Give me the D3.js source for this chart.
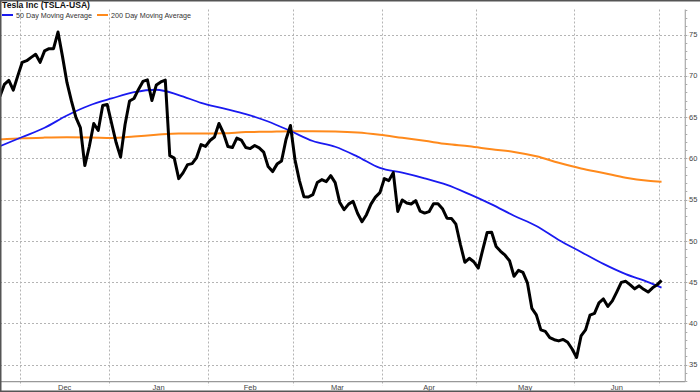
<!DOCTYPE html>
<html><head><meta charset="utf-8">
<script src="https://cdn.jsdelivr.net/npm/d3@7"></script>
<style>body{margin:0;background:#fff}svg{display:block}</style>
</head><body>
<svg id="c" width="700" height="392"></svg>
<script>
const title = "Tesla Inc (TSLA-USA)";
const seriesNames = ["50 Day Moving Average", "200 Day Moving Average"];
const months = ["Dec","Jan","Feb","Mar","Apr","May","Jun"];
const monthTradingDays = [20,22,19,20,21,22,19];
const daysBeforeFirstMonth = 4.5;
const yTicks = [35,40,45,50,55,60,65,70,75];
const price = [67.50, 68.95, 69.44, 68.26, 69.99, 71.63, 71.83, 72.23, 72.60, 71.63,
 73.02, 73.29, 73.29, 75.30, 72.35, 69.20, 66.95, 64.95, 63.73, 59.12,
 61.43, 64.22, 63.37, 66.40, 66.53, 64.22, 61.91, 60.15, 64.10, 66.95,
 67.25, 68.35, 69.32, 69.50, 67.01, 68.89, 69.26, 69.48, 60.33, 60.03,
 57.54, 58.27, 59.24, 59.36, 60.09, 61.67, 61.45, 62.16, 62.58, 64.22,
 63.07, 61.43, 61.31, 62.46, 62.22, 61.31, 61.18, 61.55, 61.27, 60.76,
 59.00, 58.39, 59.30, 59.67, 62.28, 63.98, 59.85, 57.30, 55.36, 55.32,
 55.60, 57.06, 57.42, 57.18, 57.91, 57.06, 54.69, 53.78, 54.45, 54.79,
 53.35, 52.32, 53.17, 54.45, 55.30, 55.84, 57.54, 57.30, 58.27, 53.57,
 54.96, 54.59, 54.47, 54.87, 53.60, 53.37, 53.54, 54.51, 54.51, 53.90,
 52.75, 52.72, 52.02, 49.59, 47.41, 47.89, 47.47, 46.70, 48.92, 51.02,
 51.05, 49.32, 48.74, 48.26, 47.59, 45.71, 46.43, 46.19, 44.92, 41.82,
 41.03, 39.21, 39.03, 38.28, 38.03, 37.88, 38.06, 37.72, 36.90, 35.87,
 38.48, 39.21, 41.00, 41.21, 42.49, 42.97, 42.06, 42.73, 43.82, 44.97,
 45.10, 44.67, 44.19, 44.55, 44.13, 43.80, 44.31, 44.67, 45.22];
const maDays = [0,5,10,15,20,25,30,35,40,45,50,55,60,65,70,75,80,85,90,95,100,105,110,115,120,125,130,135,140,145,148];
const ma50 = [61.46,62.58,63.70,65.19,66.40,67.25,68.01,68.31,67.67,66.73,66.05,65.36,64.46,63.31,62.10,61.40,60.21,58.84,58.26,57.58,56.78,55.66,54.42,53.05,51.80,50.11,48.66,47.21,45.97,45.00,44.33];
const ma200 = [62.28,62.44,62.51,62.54,62.53,62.47,62.64,62.85,63.01,63.01,63.03,63.18,63.22,63.28,63.28,63.25,63.13,62.85,62.48,62.12,61.73,61.45,61.09,60.78,60.25,59.47,58.78,58.23,57.65,57.28,57.15];

const svg = d3.select("#c");
const L = 0, R = 685.3, T = 9.5, B = 381.7;
const bounds = [daysBeforeFirstMonth];
monthTradingDays.forEach(d => bounds.push(bounds[bounds.length-1] + d));
const x = d3.scaleLinear().domain([bounds[0], bounds[bounds.length-1]]).range([20, 659.3]);
const y = d3.scaleLinear().domain([32.94, 78.03]).range([B, T]);

svg.append("rect").attr("width",700).attr("height",392).attr("fill","#fff");
svg.append("defs").append("clipPath").attr("id","clip").append("rect")
  .attr("x",L).attr("y",T).attr("width",R-L).attr("height",B-T);

const grid = svg.append("g").attr("stroke","#b4b4b4").attr("stroke-width",1).attr("stroke-dasharray","2,2");
grid.selectAll("line.h").data(yTicks).join("line")
  .attr("x1",L).attr("x2",R+3).attr("y1",d=>Math.round(y(d))+0.5).attr("y2",d=>Math.round(y(d))+0.5);
grid.selectAll("line.v").data(bounds).join("line")
  .attr("x1",d=>Math.round(x(d))+0.5).attr("x2",d=>Math.round(x(d))+0.5).attr("y1",T).attr("y2",B+4);

// axes
svg.append("line").attr("x1",L).attr("x2",R).attr("y1",B).attr("y2",B).attr("stroke","#999").attr("stroke-width",1.2);
svg.append("line").attr("x1",R).attr("x2",R).attr("y1",T).attr("y2",B).attr("stroke","#aaa").attr("stroke-width",1.2);
const minor = d3.range(33, 79);
svg.append("g").selectAll("line").data(minor).join("line")
  .attr("x1",R).attr("x2",R+2).attr("y1",d=>Math.round(y(d))+0.5).attr("y2",d=>Math.round(y(d))+0.5)
  .attr("stroke","#aaa").attr("stroke-width",1);

svg.append("g").selectAll("text").data(yTicks).join("text")
  .attr("x",689).attr("y",d=>y(d)).attr("dy","0.35em")
  .attr("font-family","Liberation Sans, Arial, sans-serif").attr("font-size",7.5).attr("fill","#444")
  .text(d=>d);
svg.append("g").selectAll("text").data(months).join("text")
  .attr("x",(d,i)=>(x(bounds[i])+x(bounds[i+1]))/2).attr("y",390)
  .attr("text-anchor","middle")
  .attr("font-family","Liberation Sans, Arial, sans-serif").attr("font-size",7.5).attr("fill","#444")
  .text(d=>d);

// series
const plot = svg.append("g").attr("clip-path","url(#clip)");
const maLine = d3.line().x((d,i)=>x(maDays[i])).y(d=>y(d)).curve(d3.curveMonotoneX);
plot.append("path").datum(ma200).attr("d",maLine).attr("fill","none").attr("stroke","#ff8a1c").attr("stroke-width",2);
plot.append("path").datum(ma50).attr("d",maLine).attr("fill","none").attr("stroke","#1a1af0").attr("stroke-width",1.8);
const pLine = d3.line().x((d,i)=>x(i)).y(d=>y(d));
plot.append("path").datum(price).attr("d",pLine).attr("fill","none").attr("stroke","#000")
  .attr("stroke-width",3).attr("stroke-linejoin","round");

// frame
svg.append("path").attr("d","M0.75,392 V0.75 H700").attr("fill","none").attr("stroke","#555").attr("stroke-width",1.5);
svg.append("line").attr("x1",0).attr("x2",700).attr("y1",391.25).attr("y2",391.25).attr("stroke","#555").attr("stroke-width",1.5);

// title & legend
svg.append("text").attr("x",2).attr("y",8.3).attr("font-family","Liberation Sans, Arial, sans-serif")
  .attr("font-weight","bold").attr("font-size",8.7).attr("fill","#111")
  .attr("textLength",88).attr("lengthAdjust","spacingAndGlyphs").text(title);
const legColors = ["#1a1af0","#ff8a1c"];
const legX = [2, 97], legW = [76, 80];
seriesNames.forEach((n,i)=>{
  svg.append("line").attr("x1",legX[i]).attr("x2",legX[i]+11).attr("y1",15).attr("y2",15)
    .attr("stroke",legColors[i]).attr("stroke-width",2);
  svg.append("text").attr("x",legX[i]+14).attr("y",17.6).attr("font-family","Liberation Sans, Arial, sans-serif")
    .attr("font-size",7.2).attr("fill","#333").attr("textLength",legW[i]).attr("lengthAdjust","spacingAndGlyphs").text(n);
});
</script>
</body></html>
